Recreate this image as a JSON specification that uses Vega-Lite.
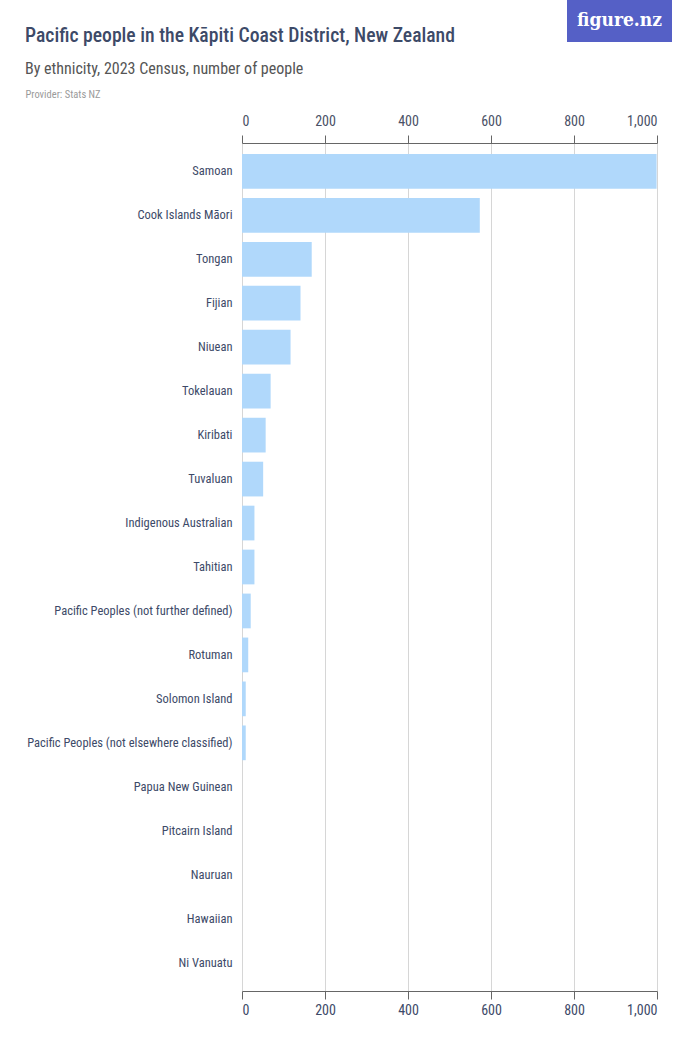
{
  "$schema": "https://vega.github.io/schema/vega-lite/v6.json",
  "background": "white",
  "padding": {"left": 25, "top": 0, "right": 20, "bottom": 20},
  "config": {
    "font": "Roboto Condensed, DejaVu Sans Condensed, sans-serif",
    "view": {"stroke": null}
  },
  "bounds": "flush",
  "spacing": 143,
  "vconcat": [
    {
      "spacing": 0,
      "hconcat": [
        {
          "width": 325,
          "height": 42,
          "data": {"values": []},
          "mark": "text",
          "encoding": {}
        },
        {
          "width": 105,
          "height": 42,
          "view": {"fill": "#5560c6", "stroke": null},
          "data": {"values": [{"brand": "figure.nz"}]},
          "mark": {"type": "text", "font": "DejaVu Serif Condensed, DejaVu Serif, serif", "fontSize": 19, "fontWeight": "bold", "color": "white", "dy": -1},
          "encoding": {"text": {"field": "brand"}}
        }
      ]
    },
    {
      "width": 415,
      "height": 848,
      "title": {
        "text": "Pacific people in the Kāpiti Coast District, New Zealand",
        "subtitle": "By ethnicity, 2023 Census, number of people",
        "anchor": "start",
        "frame": "group",
        "dx": -217,
        "fontSize": 19.7,
        "fontWeight": 500,
        "color": "#3d4a68",
        "subtitleFontSize": 16,
        "subtitleFontWeight": "normal",
        "subtitleColor": "#555555",
        "subtitlePadding": 15,
        "offset": 12
      },
      "data": {
        "values": [
          {"ethnicity": "Samoan", "people": 999},
          {"ethnicity": "Cook Islands Māori", "people": 573},
          {"ethnicity": "Tongan", "people": 168},
          {"ethnicity": "Fijian", "people": 141},
          {"ethnicity": "Niuean", "people": 117},
          {"ethnicity": "Tokelauan", "people": 69},
          {"ethnicity": "Kiribati", "people": 57},
          {"ethnicity": "Tuvaluan", "people": 51},
          {"ethnicity": "Indigenous Australian", "people": 30},
          {"ethnicity": "Tahitian", "people": 30},
          {"ethnicity": "Pacific Peoples (not further defined)", "people": 21},
          {"ethnicity": "Rotuman", "people": 15},
          {"ethnicity": "Solomon Island", "people": 9},
          {"ethnicity": "Pacific Peoples (not elsewhere classified)", "people": 9},
          {"ethnicity": "Papua New Guinean", "people": 0},
          {"ethnicity": "Pitcairn Island", "people": 0},
          {"ethnicity": "Nauruan", "people": 0},
          {"ethnicity": "Hawaiian", "people": 0},
          {"ethnicity": "Ni Vanuatu", "people": 0}
        ]
      },
      "encoding": {
        "y": {
          "field": "ethnicity",
          "type": "nominal",
          "sort": null,
          "scale": {"paddingInner": 0.21, "paddingOuter": 0.25},
          "axis": {
            "title": null,
            "domain": false,
            "ticks": false,
            "labelPadding": 10,
            "labelFontSize": 12.5,
            "labelColor": "#3d4a68",
            "labelLimit": 300
          }
        }
      },
      "layer": [
        {
          "mark": {"type": "bar", "color": "#b0d8fb"},
          "encoding": {
            "x": {
              "field": "people",
              "type": "quantitative",
              "scale": {"domain": [0, 1000], "nice": false},
              "axis": {
                "orient": "bottom",
                "values": [0, 200, 400, 600, 800, 1000],
                "format": ",.0f",
                "title": null,
                "grid": true,
                "gridColor": "#d6d6d6",
                "domainColor": "#666666",
                "tickColor": "#666666",
                "tickSize": 8,
                "labelPadding": 4,
                "labelFontSize": 14,
                "labelColor": "#3d4a68"
              }
            }
          }
        },
        {
          "mark": {"type": "bar", "opacity": 0},
          "encoding": {
            "x": {
              "field": "people",
              "type": "quantitative",
              "axis": {
                "orient": "top",
                "values": [0, 200, 400, 600, 800, 1000],
                "format": ",.0f",
                "title": "Provider: Stats NZ",
                "titleAnchor": "start",
                "titleAlign": "left",
                "titleX": -217,
                "titleY": -44,
                "titleFontSize": 10.5,
                "titleFontWeight": "normal",
                "titleColor": "#9a9a9a",
                "grid": false,
                "domainColor": "#666666",
                "tickColor": "#666666",
                "tickSize": 8,
                "labelPadding": 7,
                "labelFontSize": 14,
                "labelColor": "#4a5166"
              }
            }
          }
        }
      ]
    }
  ]
}
